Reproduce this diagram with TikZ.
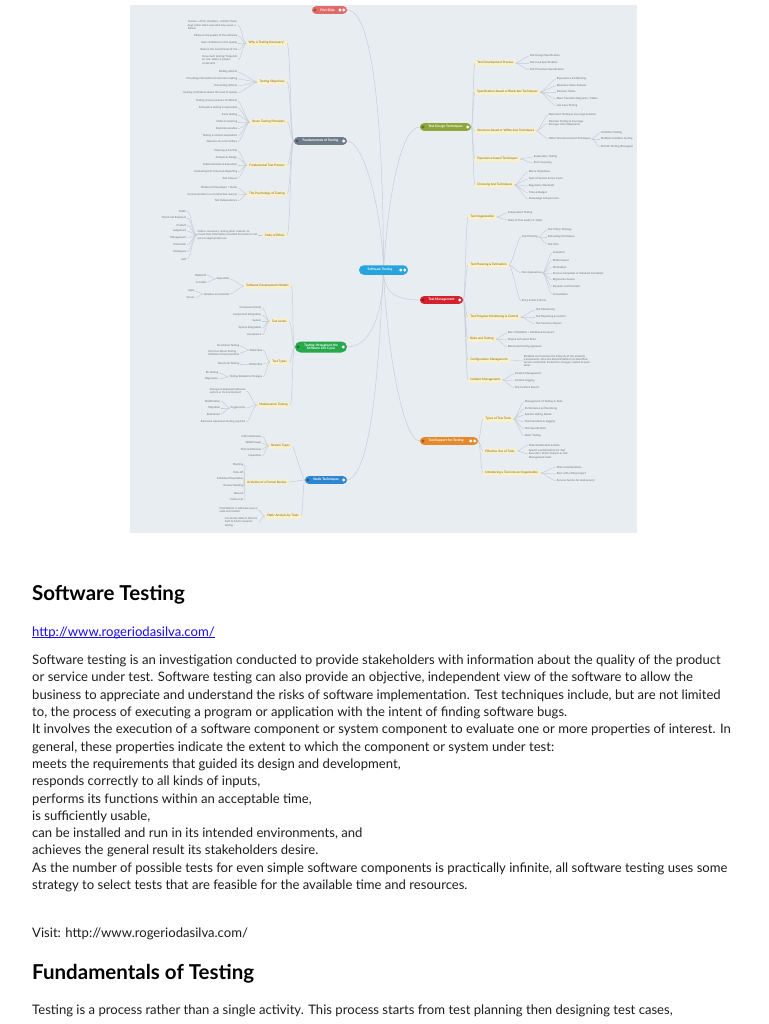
\documentclass[tikz,border=0pt]{standalone}
\usepackage{fontspec}
\setmainfont{Lato}
\newfontfamily\symfont{DejaVu Sans}
\definecolor{mapbg}{HTML}{E8EDF1}
\definecolor{linec}{HTML}{C3CCD4}
\definecolor{ylwfill}{HTML}{FCF1C6}
\definecolor{ylwtext}{HTML}{6B5E2E}
\definecolor{leaftext}{HTML}{6F6F6F}
\definecolor{croot}{HTML}{27A4DD}
\definecolor{cfs}{HTML}{E16B68}
\definecolor{cfund}{HTML}{6F7B88}
\definecolor{ctdt}{HTML}{8DA53B}
\definecolor{ctm}{HTML}{D3212D}
\definecolor{cttsl}{HTML}{26A94C}
\definecolor{ctst}{HTML}{E5892A}
\definecolor{cstat}{HTML}{2F86CF}
\definecolor{bodytext}{HTML}{1E1E1E}
\definecolor{linkblue}{HTML}{1A0DEE}
\newcommand\fmain{\bfseries\fontsize{3.3}{3.9}\selectfont}
\newcommand\fsub{\fontsize{3.1}{3.6}\selectfont}
\newcommand\fleaf{\fontsize{2.75}{3.3}\selectfont}
\newcommand\fbody{\fontsize{13.1}{15}\selectfont}
\newcommand\fhead{\bfseries\fontsize{20.5}{24}\selectfont}
\newcommand\arr{{\symfont →}}
\pgfdeclarelayer{back}
\pgfdeclarelayer{lines}
\pgfsetlayers{back,lines,main}
\tikzset{
  conn/.style={draw=linec, line width=0.45pt},
  mainnode/.style={rounded corners=3.8pt, inner sep=0pt, minimum height=7.6pt, text=white, font=\fmain, align=center},
  ylw/.style={fill=ylwfill, rounded corners=1.6pt, inner xsep=2.2pt, inner ysep=1.3pt, text=ylwtext, font=\fsub},
  leaf/.style={inner sep=0.6pt, text=leaftext, font=\fleaf, align=left},
  body/.style={anchor=base west, inner sep=0pt, font=\fbody, text=bodytext},
  head/.style={anchor=base west, inner sep=0pt, font=\fhead, text=black}
}
\newcommand\conL[3][3]{\begin{pgfonlayer}{lines}\draw[conn] (#2.west) .. controls +(-#1,0) and +(#1,0) .. (#3.east);\end{pgfonlayer}}
\newcommand\conR[3][3]{\begin{pgfonlayer}{lines}\draw[conn] (#2.east) .. controls +(#1,0) and +(-#1,0) .. (#3.west);\end{pgfonlayer}}
\newcommand\LL[4]{\node[leaf,anchor=east] (#1) at (#2,#3) {#4};}
\newcommand\LR[4]{\node[leaf,anchor=west] (#1) at (#2,#3) {#4};}
\newcommand\YL[4]{\node[ylw,anchor=east] (#1) at (#2,#3) {#4};}
\newcommand\YR[4]{\node[ylw,anchor=west] (#1) at (#2,#3) {#4};}
\newcommand\iconR[2]{\fill[white] ([xshift=-#2]#1.east) circle (1.6pt);}
\newcommand\iconL[1]{\fill[black,opacity=0.3] ([xshift=3.2pt]#1.west) circle (1.7pt);}
\begin{document}
\begin{tikzpicture}[x=1pt,y=-1pt]
\useasboundingbox (0,0) rectangle (768,1024);
\begin{pgfonlayer}{back}
\fill[white] (0,0) rectangle (768,1024);
\fill[mapbg] (130,5) rectangle (637,533);
\end{pgfonlayer}

% ---------- main nodes ----------
\node[mainnode, fill=croot, minimum width=49pt, minimum height=9.5pt, rounded corners=4.7pt] (root) at (383.5,270) {Software Testing\hspace{7pt}};
\node[mainnode, fill=cfs, minimum width=35pt] (fs) at (329.5,10) {\hspace{3pt}First Slide\hspace{7pt}};
\node[mainnode, fill=cfund, minimum width=53pt] (fund) at (320.5,141) {\hspace{3pt}Fundamentals of Testing\hspace{3pt}};
\node[mainnode, fill=cttsl, minimum width=52pt, minimum height=11pt, rounded corners=5.5pt] (ttsl) at (321,347) {Testing throughout the\\Software Life Cycle};
\node[mainnode, fill=cstat, minimum width=42pt] (stat) at (326,480) {\hspace{3pt}Static Techniques\hspace{3pt}};
\node[mainnode, fill=ctdt, minimum width=51pt] (tdt) at (445.5,127) {\hspace{3pt}Test Design Techniques\hspace{3pt}};
\node[mainnode, fill=ctm, minimum width=43pt] (tm) at (441.5,300) {\hspace{3pt}Test Management\hspace{3pt}};
\node[mainnode, fill=ctst, minimum width=58pt] (tst) at (449,441) {\hspace{2pt}Tool Support for Testing\hspace{8pt}};
\iconR{root}{3.5pt}\iconR{root}{7.5pt}
\iconR{fs}{3.5pt}\iconR{fs}{7.3pt}\iconL{fs}
\iconR{fund}{3.5pt}\iconL{fund}
\iconR{ttsl}{4pt}\iconL{ttsl}
\iconR{stat}{3.5pt}\iconL{stat}
\iconR{tdt}{3.5pt}\iconL{tdt}
\iconR{tm}{3.5pt}\iconL{tm}
\iconR{tst}{3.5pt}\iconR{tst}{7.5pt}\iconL{tst}

\begin{pgfonlayer}{lines}
\draw[conn] (root.center) .. controls (383,100) and (370,10) .. (fs.east);
\draw[conn] (root.center) .. controls (381,200) and (362,141) .. (fund.east);
\draw[conn] (root.center) .. controls (388,200) and (400,127) .. (tdt.west);
\draw[conn] (root.center) .. controls (383,295) and (400,300) .. (tm.west);
\draw[conn] (root.center) .. controls (383,315) and (370,347) .. (ttsl.east);
\draw[conn] (root.center) .. controls (380,330) and (375,475) .. (stat.east);
\draw[conn] (root.center) .. controls (386,340) and (402,441) .. (tst.west);
\end{pgfonlayer}

% ---------- Fundamentals of Testing ----------
\YL{why}{287}{43}{Why is Testing Necessary?}
\YL{obj}{287}{82}{Testing Objectives}
\YL{sev}{287}{122}{Seven Testing Principles}
\YL{ftp}{287}{165}{Fundamental Test Process}
\YL{psy}{287}{194}{The Psychology of Testing}
\YL{eth}{287}{235}{Code of Ethics}
\foreach \c in {why,obj,sev,ftp,psy,eth} {\conL[3.5]{fund}{\c}}

\LL{w1}{238}{25}{Human \arr{} Error (mistake) \arr{} Defect (fault,\\bug) which when executed may cause \arr{}\\Failure}
\LL{w2}{238}{36}{Measure the quality of the software}
\LL{w3}{238}{43}{Gain confidence in the quality}
\LL{w4}{238}{50}{Reduce the overall level of risk}
\LL{w5}{238}{60}{How much testing? Depends\\on risk, safety \& project\\constraints}
\foreach \c in {w1,w2,w3,w4,w5} {\conL{why}{\c}}

\LL{o1}{238}{72}{Finding defects}
\LL{o2}{238}{79}{Providing information for decision-making}
\LL{o3}{238}{86}{Preventing defects}
\LL{o4}{238}{93}{Gaining confidence about the level of quality}
\foreach \c in {o1,o2,o3,o4} {\conL{obj}{\c}}

\LL{s1}{238}{101}{Testing shows presence of defects}
\LL{s2}{238}{108}{Exhaustive testing is impossible}
\LL{s3}{238}{115}{Early testing}
\LL{s4}{238}{122}{Defect clustering}
\LL{s5}{238}{129}{Pesticide paradox}
\LL{s6}{238}{136}{Testing is context dependent}
\LL{s7}{238}{142}{Absence-of-errors fallacy}
\foreach \c in {s1,s2,s3,s4,s5,s6,s7} {\conL{sev}{\c}}

\LL{f1}{238}{151}{Planning \& Control}
\LL{f2}{238}{158}{Analysis \& Design}
\LL{f3}{238}{165}{Implementation \& Execution}
\LL{f4}{238}{172}{Evaluating Exit Criteria \& Reporting}
\LL{f5}{238}{178}{Test Closure}
\foreach \c in {f1,f2,f3,f4,f5} {\conL{ftp}{\c}}

\LL{p1}{238}{188}{Mindset of Developer / Tester}
\LL{p2}{238}{195}{Communication in a constructive manner}
\LL{p3}{238}{201}{Test Independence}
\foreach \c in {p1,p2,p3} {\conL{psy}{\c}}

\LL{e0}{258}{235}{Code is necessary, among other reasons, to\\ensure that information provided by testers is not\\put to inappropriate use}
\conL{eth}{e0}
\LL{e1}{187}{211}{Public}
\LL{e2}{187}{218}{Client and Employer}
\LL{e3}{187}{225}{Product}
\LL{e4}{187}{231}{Judgement}
\LL{e5}{187}{238}{Management}
\LL{e6}{187}{245}{Profession}
\LL{e7}{187}{252}{Colleagues}
\LL{e8}{187}{259}{Self}
\foreach \c in {e1,e2,e3,e4,e5,e6,e7,e8} {\conL[4]{e0}{\c}}

% ---------- Testing throughout the SLC ----------
\YL{sdm}{291}{286}{Software Development Models}
\YL{tl}{289}{321}{Test Levels}
\YL{tt}{289}{362}{Test Types}
\YL{mt}{290}{405}{Maintenance Testing}
\foreach \c in {sdm,tl,tt,mt} {\conL[3]{ttsl}{\c}}

\LL{seq}{230}{279}{Sequential}
\LL{itr}{230}{294}{Iterative-incremental}
\conL[4]{sdm}{seq}\conL[4]{sdm}{itr}
\LL{wf}{207}{275}{Waterfall}
\LL{vm}{207}{282}{V-model}
\conL{seq}{wf}\conL{seq}{vm}
\LL{ag}{195}{291}{Agile}
\LL{sc}{195}{298}{Scrum}
\conL{itr}{ag}\conL{itr}{sc}

\LL{l1}{262}{308}{Component (Unit)}
\LL{l2}{262}{315}{Component Integration}
\LL{l3}{262}{321}{System}
\LL{l4}{262}{328}{System Integration}
\LL{l5}{262}{335}{Acceptance}
\foreach \c in {l1,l2,l3,l4,l5} {\conL{tl}{\c}}

\LL{bb}{263}{350}{Black Box}
\LL{wb}{263}{364}{White Box}
\LL{trc}{263}{377}{Testing Related to Changes}
\foreach \c in {bb,wb,trc} {\conL{tt}{\c}}
\LL{ft}{240}{346}{Functional Testing}
\LL{nft}{240}{353}{Non-functional Testing\\(Software Characteristics)}
\conL{bb}{ft}\conL{bb}{nft}
\LL{st}{240}{364}{Structural Testing}
\conL{wb}{st}
\LL{rtt}{219}{373}{Re-testing}
\LL{reg}{219}{379}{Regression}
\conL{trc}{rtt}\conL{trc}{reg}

\LL{chg}{246}{391}{Change to deployed software\\system or its environment}
\LL{trg}{246}{408}{Triggered by}
\LL{ext}{246}{422}{Extensive regression testing required}
\foreach \c in {chg,trg,ext} {\conL[4]{mt}{\c}}
\LL{mod}{221}{401}{Modification}
\LL{mig}{221}{408}{Migration}
\LL{ret}{221}{414}{Retirement}
\foreach \c in {mod,mig,ret} {\conL{trg}{\c}}

% ---------- Static Techniques ----------
\YL{rty}{292}{446}{Review Types}
\YL{afr}{289}{482}{Activities of a Formal Review}
\YL{sat}{301}{516}{Static Analysis by Tools}
\foreach \c in {rty,afr,sat} {\conL[2]{stat}{\c}}
\LL{r1}{262}{436}{Informal Review}
\LL{r2}{262}{443}{Walkthrough}
\LL{r3}{262}{449}{Technical Review}
\LL{r4}{262}{456}{Inspection}
\foreach \c in {r1,r2,r3,r4} {\conL{rty}{\c}}
\LL{a1}{244}{465}{Planning}
\LL{a2}{244}{472}{Kick-off}
\LL{a3}{244}{479}{Individual Preparation}
\LL{a4}{244}{486}{Review Meeting}
\LL{a5}{244}{493}{Rework}
\LL{a6}{244}{500}{Follow-Up}
\foreach \c in {a1,a2,a3,a4,a5,a6} {\conL{afr}{\c}}
\LL{t1}{258}{510}{Find defects in software source\\code and models}
\LL{t2}{258}{522}{Can locate defects that are\\hard to find in dynamic\\testing}
\conL{sat}{t1}\conL{sat}{t2}

% ---------- Test Design Techniques ----------
\YR{tdp}{475}{63}{Test Development Process}
\YR{sbb}{475}{92}{Specification-based or Black-box Techniques}
\YR{swb}{475}{131}{Structure-based or White-box Techniques}
\YR{ebt}{475}{159}{Experience-based Techniques}
\YR{ctt}{475}{185}{Choosing test Techniques}
\foreach \c in {tdp,sbb,swb,ebt,ctt} {\conR[2]{tdt}{\c}}
\LR{d1}{529}{56}{Test Design Specification}
\LR{d2}{529}{63}{Test Case Specification}
\LR{d3}{529}{70}{Test Procedure Specification}
\foreach \c in {d1,d2,d3} {\conR{tdp}{\c}}
\LR{k1}{556}{79}{Equivalence Partitioning}
\LR{k2}{556}{86}{Boundary Value Analysis}
\LR{k3}{556}{92}{Decision Tables}
\LR{k4}{556}{99}{State Transition Diagrams / Tables}
\LR{k5}{556}{106}{Use Case Testing}
\foreach \c in {k1,k2,k3,k4,k5} {\conR{sbb}{\c}}
\LR{x1}{548}{115}{Statement Testing \& Coverage (weaker)}
\LR{x2}{548}{123}{Decision Testing \& Coverage\\(stronger than Statement)}
\LR{x3}{548}{139}{Other Structural-based Techniques}
\foreach \c in {x1,x2,x3} {\conR{swb}{\c}}
\LR{y1}{600}{133}{Condition Testing}
\LR{y2}{600}{139}{Multiple Condition testing}
\LR{y3}{600}{147}{All Path Testing (Strongest)}
\foreach \c in {y1,y2,y3} {\conR{x3}{\c}}
\LR{g1}{533}{157}{Exploratory Testing}
\LR{g2}{533}{163}{Error Guessing}
\conR{ebt}{g1}\conR{ebt}{g2}
\LR{c1}{528}{172}{Risk \& Objectives}
\LR{c2}{528}{179}{Type of System \& Dev Cycle}
\LR{c3}{528}{186}{Regulatory Standards}
\LR{c4}{528}{193}{Time \& Budget}
\LR{c5}{528}{199}{Knowledge \& Experience}
\foreach \c in {c1,c2,c3,c4,c5} {\conR{ctt}{\c}}

% ---------- Test Management ----------
\YR{tor}{468}{217}{Test Organization}
\YR{tpe}{468}{265}{Test Planning \& Estimation}
\YR{tpm}{468}{317}{Test Progress Monitoring \& Control}
\YR{rat}{468}{339}{Risks and Testing}
\YR{cm}{468}{360}{Configuration Management}
\YR{im}{468}{380}{Incident Management}
\foreach \c in {tor,tpe,tpm,rat,cm,im} {\conR[2]{tm}{\c}}
\LR{o5}{507}{213}{Independent Testing}
\LR{o6}{507}{220}{Tasks of Test Leader \& Tester}
\conR{tor}{o5}\conR{tor}{o6}
\LR{tp}{521}{237}{Test Planning}
\LR{ta}{521}{273}{Test Approaches}
\LR{eec}{521}{301}{Entry \& Exit Criteria}
\foreach \c in {tp,ta,eec} {\conR{tpe}{\c}}
\LR{q1}{547}{230}{Test Policy, Strategy}
\LR{q2}{547}{237}{Estimating Techniques}
\LR{q3}{547}{244}{Test Plan}
\foreach \c in {q1,q2,q3} {\conR{tp}{\c}}
\LR{m1}{552}{253}{Analytical}
\LR{m2}{552}{260}{Model-based}
\LR{m3}{552}{267}{Methodical}
\LR{m4}{552}{274}{Process-Compliant or Standard-Compliant}
\LR{m5}{552}{280}{Regression-Averse}
\LR{m6}{552}{287}{Dynamic and Heuristic}
\LR{m7}{552}{294}{Consultative}
\foreach \c in {m1,m2,m3,m4,m5,m6,m7} {\conR{ta}{\c}}
\LR{n1}{535}{310}{Test Monitoring}
\LR{n2}{535}{317}{Test Reporting \& Control}
\LR{n3}{535}{324}{Test Summary Report}
\foreach \c in {n1,n2,n3} {\conR{tpm}{\c}}
\LR{u1}{507}{333}{Risk: Probability / Likelihood \& Impact}
\LR{u2}{507}{340}{Project \& Product Risks}
\LR{u3}{507}{347}{Risk-based testing approach}
\foreach \c in {u1,u2,u3} {\conR{rat}{\c}}
\LR{cm1}{523}{361}{Establish and maintain the integrity of the products\\(components, data and documentation) are identified,\\version controlled, tracked for changes, related to each\\other}
\conR{cm}{cm1}
\LR{i1}{514}{374}{Incident Management}
\LR{i2}{514}{381}{Incident Logging}
\LR{i3}{514}{388}{Test Incident Report}
\foreach \c in {i1,i2,i3} {\conR{im}{\c}}

% ---------- Tool Support for Testing ----------
\YR{ttt}{483}{419}{Types of Test Tools}
\YR{eut}{483}{451}{Effective Use of Tools}
\YR{itt}{483}{473}{Introducing a Tool into an Organization}
\foreach \c in {ttt,eut,itt} {\conR[2]{tst}{\c}}
\LR{v1}{524}{402}{Management of Testing \& Tests}
\LR{v2}{524}{409}{Performance \& Monitoring}
\LR{v3}{524}{415}{Specific testing Needs}
\LR{v4}{524}{422}{Test Execution \& Logging}
\LR{v5}{524}{429}{Test Specification}
\LR{v6}{524}{436}{Static Testing}
\foreach \c in {v1,v2,v3,v4,v5,v6} {\conR{ttt}{\c}}
\LR{z1}{528}{445}{Potential Benefits \& Risks}
\LR{z2}{528}{454}{Special considerations for Test\\Execution, Static Analysis \& Test\\Management tools}
\conR{eut}{z1}\conR{eut}{z2}
\LR{j1}{556}{467}{Main Considerations}
\LR{j2}{556}{474}{Start with a Pilot project}
\LR{j3}{556}{481}{Success factors for deployment}
\foreach \c in {j1,j2,j3} {\conR{itt}{\c}}

% ---------- text below ----------
\node[head] (h1) at (32,600) {Software Testing};
\node[body, text=linkblue] (lnk) at (32,636) {http://www.rogeriodasilva.com/};
\draw[linkblue, line width=0.8pt] ([yshift=-1.8pt]lnk.base west) -- ([yshift=-1.8pt]lnk.base east);
\node[body] (b1) at (32,664.6) {Software testing is an investigation conducted to provide stakeholders with information about the quality of the product};
\node[body] (b2) at (32,681.9) {or service under test. Software testing can also provide an objective, independent view of the software to allow the};
\node[body] (b3) at (32,699.2) {business to appreciate and understand the risks of software implementation. Test techniques include, but are not limited};
\node[body] (b4) at (32,716.5) {to, the process of executing a program or application with the intent of finding software bugs.};
\node[body] (b5) at (32,733.8) {It involves the execution of a software component or system component to evaluate one or more properties of interest. In};
\node[body] (b6) at (32,751.1) {general, these properties indicate the extent to which the component or system under test:};
\node[body] (b7) at (32,768.4) {meets the requirements that guided its design and development,};
\node[body] (b8) at (32,785.7) {responds correctly to all kinds of inputs,};
\node[body] (b9) at (32,803.0) {performs its functions within an acceptable time,};
\node[body] (b10) at (32,820.3) {is sufficiently usable,};
\node[body] (b11) at (32,837.6) {can be installed and run in its intended environments, and};
\node[body] (b12) at (32,854.9) {achieves the general result its stakeholders desire.};
\node[body] (b13) at (32,872.2) {As the number of possible tests for even simple software components is practically infinite, all software testing uses some};
\node[body] (b14) at (32,889.5) {strategy to select tests that are feasible for the available time and resources.};
\node[body] (vis) at (32,937) {Visit: http://www.rogeriodasilva.com/};
\node[head] (h2) at (32,979) {Fundamentals of Testing};
\node[body] (b15) at (32,1014) {Testing is a process rather than a single activity. This process starts from test planning then designing test cases,};
\end{tikzpicture}
\end{document}
